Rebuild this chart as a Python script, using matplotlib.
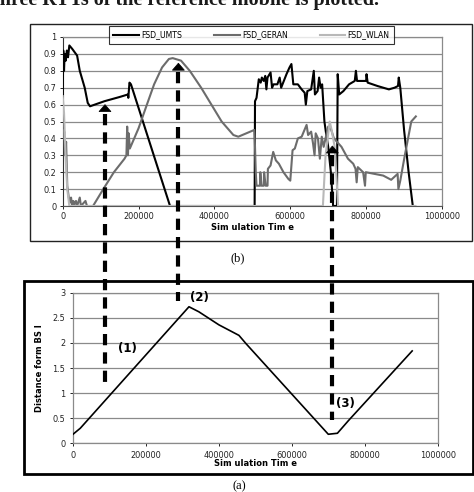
import matplotlib
matplotlib.use("Agg")
import matplotlib.pyplot as plt
from matplotlib.lines import Line2D
from matplotlib.patches import Rectangle, Polygon
import numpy as np

# ---------------- data ----------------
umts_x = [0, 1500, 3500, 5000, 8000, 11000, 14000, 17500, 25000, 38000, 45000, 58000, 66000, 72000,
          110000, 150000, 172000, 173000, 176000, 180000, 283000, 506000, 507000, 511000, 517000,
          522000, 525000, 530000, 534000, 537000, 540000, 548000, 552000, 556000, 566000, 572000,
          576000, 583000, 590000, 598000, 603000, 608000, 620000, 630000, 638000, 641000, 645000,
          655000, 662000, 665000, 672000, 676000, 680000, 684000, 690000, 695000, 700000, 707000,
          713000, 723000, 725000, 729000, 740000, 755000, 770000, 773000, 776000, 800000, 801000,
          804000, 830000, 860000, 875000, 884000, 886000, 890000, 900000, 912000, 923000]
umts_y = [0.65, 0.92, 0.80, 0.90, 0.86, 0.92, 0.88, 0.95, 0.93, 0.89, 0.80, 0.70, 0.61, 0.59,
          0.62, 0.645, 0.66, 0.64, 0.73, 0.72, 0.0, 0.0, 0.62, 0.64, 0.75,
          0.73, 0.76, 0.74, 0.77, 0.69, 0.76, 0.79, 0.70, 0.72, 0.72, 0.76,
          0.70, 0.74, 0.78, 0.82, 0.84, 0.72, 0.72, 0.69, 0.67, 0.60, 0.68,
          0.69, 0.80, 0.66, 0.68, 0.76, 0.70, 0.72, 0.50, 0.42, 0.35, 0.20,
          0.0, 0.0, 0.78, 0.66, 0.68, 0.72, 0.74, 0.80, 0.74, 0.74, 0.78,
          0.73, 0.71, 0.69, 0.70, 0.71, 0.76, 0.70, 0.45, 0.20, 0.0]

geran_x = [0, 2000, 4000, 6500, 9000, 12000, 16000, 19000, 22000, 25000, 28000, 31000, 35000, 38000,
           45000, 48000, 60000, 64000, 80000, 107000, 135000, 163000, 168000, 170000, 172000, 174000,
           177000, 200000, 222000, 241000, 262000, 280000, 290000, 312000, 335000, 365000, 392000,
           419000, 450000, 463000, 505000, 507000, 509000, 511000, 520000, 521000, 524000, 530000,
           531000, 535000, 540000, 541000, 548000, 555000, 562000, 570000, 582000, 595000, 600000,
           606000, 612000, 620000, 630000, 643000, 647000, 655000, 660000, 664000, 667000, 673000,
           678000, 683000, 688000, 693000, 700000, 708000, 715000, 735000, 752000, 766000, 772000,
           775000, 778000, 792000, 797000, 799000, 845000, 866000, 883000, 885000, 890000, 902000,
           919000, 931000]
geran_y = [0.45, 0.40, 0.44, 0.30, 0.38, 0.12, 0.05, 0.02, 0.05, 0.0, 0.03, 0.01, 0.03, 0.0,
           0.05, 0.0, 0.03, 0.0, 0.0, 0.10, 0.20, 0.28, 0.30, 0.47, 0.30, 0.43,
           0.34, 0.46, 0.60, 0.72, 0.82, 0.87, 0.875, 0.86, 0.80, 0.70, 0.60,
           0.50, 0.42, 0.41, 0.45, 0.35, 0.20, 0.12, 0.12, 0.20, 0.12, 0.12,
           0.20, 0.12, 0.12, 0.22, 0.24, 0.32, 0.27, 0.25, 0.20, 0.16, 0.15,
           0.33, 0.34, 0.40, 0.41, 0.48, 0.42, 0.44, 0.37, 0.30, 0.43, 0.40,
           0.28, 0.41, 0.35, 0.40, 0.47, 0.45, 0.40, 0.35, 0.28, 0.25, 0.22,
           0.14, 0.23, 0.20, 0.12, 0.20, 0.18, 0.155, 0.19, 0.10, 0.15, 0.30,
           0.50, 0.53]

wlan_x = [0, 3500, 7500, 12000, 17500, 686000, 693000, 704000, 709000, 717000, 721000, 726000, 930000]
wlan_y = [0.65, 0.55, 0.30, 0.10, 0.0, 0.0, 0.30, 0.50, 0.45, 0.35, 0.20, 0.0, 0.0]

dist_x = [0, 20000, 318000, 345000, 400000, 455000, 475000, 700000, 725000, 755000, 930000]
dist_y = [0.18, 0.30, 2.72, 2.62, 2.36, 2.15, 1.98, 0.18, 0.20, 0.45, 1.84]

series_names = ["FSD_UMTS", "FSD_GERAN", "FSD_WLAN"]
x_ticks = [0, 200000, 400000, 600000, 800000, 1000000]
top_y_ticks = [0, 0.1, 0.2, 0.3, 0.4, 0.5, 0.6, 0.7, 0.8, 0.9, 1]
top_y_labels = ["0", "0.1", "0.2", "0.3", "0.4", "0.5", "0.6", "0.7", "0.8", "0.9", "1"]
bot_y_ticks = [0, 0.5, 1, 1.5, 2, 2.5, 3]
bot_y_labels = ["0", "0.5", "1", "1.5", "2", "2.5", "3"]
xlabel = "Sim ulation Tim e"
ylabel_bot = "Distance form BS I"
caption_top = "three RTTs of the reference mobile is plotted."

# annotations: (x in top chart, tip y in top chart, end y in bottom chart)
arrows = [(111500, 0.60, 1.10), (305000, 0.845, 2.83), (711000, 0.355, 0.46)]
point_labels = [("(1)", 149000, 1.89), ("(2)", 348000, 2.91), ("(3)", 748000, 0.80)]

# ---------------- figure ----------------
W, H = 474, 492
fig = plt.figure(figsize=(W / 100, H / 100), dpi=100)
fig.patch.set_facecolor("white")

def fx(px):
    return px / W

def fy(py):
    return 1 - py / H

grid_c = "#8a8a8a"
tick_font = dict(family="DejaVu Sans", size=5.9)

# top text line (cut off at the top edge of the page crop)
fig.text(fx(379), fy(5), caption_top, ha="right",
         va="baseline", family="Liberation Serif", fontsize=14.5, fontweight="bold", color="#1a1a1a")

# outer boxes
fig.patches.append(Rectangle((fx(30), fy(241)), fx(442), 217 / H, transform=fig.transFigure,
                             fill=False, edgecolor="#222222", linewidth=1.0, zorder=0))
fig.patches.append(Rectangle((fx(24), fy(474)), fx(449), 193.3 / H, transform=fig.transFigure,
                             fill=False, edgecolor="black", linewidth=2.0, zorder=0))

# ---- top chart ----
ax1 = fig.add_axes([fx(62.7), fy(206), (442 - 62.7) / W, (206 - 37) / H])
ax1.plot(umts_x, umts_y, color="black", lw=1.5, label=series_names[0], zorder=3)
ax1.plot(geran_x, geran_y, color="#6c6c6c", lw=1.5, label=series_names[1], zorder=3)
ax1.plot(wlan_x, wlan_y, color="#b8b8b8", lw=1.5, label=series_names[2], zorder=3)
ax1.set_xlim(0, 1000000)
ax1.set_ylim(0, 1)
ax1.set_xticks(x_ticks)
ax1.set_xticklabels([str(v) for v in x_ticks], **tick_font)
ax1.set_yticks(top_y_ticks)
ax1.set_yticklabels(top_y_labels, **tick_font)
ax1.yaxis.grid(True, color=grid_c, lw=0.9)
ax1.set_axisbelow(True)
for s in ["top", "right"]:
    ax1.spines[s].set_color(grid_c)
    ax1.spines[s].set_linewidth(0.9)
ax1.spines["left"].set_color("#333333")
ax1.spines["bottom"].set_color("#555555")
ax1.tick_params(axis="both", length=2.5, width=0.7, pad=2, colors="#222222")
ax1.set_xlabel(xlabel, fontsize=6, fontweight="bold", family="DejaVu Sans", labelpad=1.5)

leg = fig.legend(handles=ax1.get_lines(), labels=series_names, ncol=3,
                 bbox_to_anchor=(fx(109), fy(45), 285 / W, 20 / H), loc="center", mode="expand",
                 prop=dict(family="DejaVu Sans", size=5.6), handlelength=3.3, handletextpad=0.3,
                 borderaxespad=0, frameon=True, fancybox=False, borderpad=0.55)
leg.get_frame().set_edgecolor("black")
leg.get_frame().set_linewidth(0.8)

fig.text(fx(238), fy(258), "(b)", ha="center", va="center", family="Liberation Serif", fontsize=9)

# ---- bottom chart ----
ax2 = fig.add_axes([fx(73), fy(443.3), (437.7 - 73) / W, (443.3 - 292.7) / H])
ax2.plot(dist_x, dist_y, color="black", lw=1.2, zorder=3)
ax2.set_xlim(0, 1000000)
ax2.set_ylim(0, 3)
ax2.set_xticks(x_ticks)
ax2.set_xticklabels([str(v) for v in x_ticks], **tick_font)
ax2.set_yticks(bot_y_ticks)
ax2.set_yticklabels(bot_y_labels, **tick_font)
ax2.yaxis.grid(True, color=grid_c, lw=0.9)
ax2.set_axisbelow(True)
for s in ["top", "right", "bottom", "left"]:
    ax2.spines[s].set_color(grid_c)
    ax2.spines[s].set_linewidth(0.9)
ax2.tick_params(axis="both", length=2.5, width=0.7, pad=3, colors="#222222")
ax2.tick_params(axis="x", pad=3.0)
ax2.set_xlabel(xlabel, fontsize=6, fontweight="bold", family="DejaVu Sans", labelpad=-0.8)
ax2.set_ylabel(ylabel_bot, fontsize=6, fontweight="bold", family="DejaVu Sans", labelpad=6)
for txt, xv, yv in point_labels:
    ax2.text(xv, yv, txt, ha="center", va="center", fontsize=8.5, fontweight="bold",
             family="DejaVu Sans", zorder=5)

fig.text(fx(239), fy(486), "(a)", ha="center", va="center", family="Liberation Serif", fontsize=9)

# ---- dashed arrows (overlay in figure coords) ----
inv = fig.transFigure.inverted()
for xt, ytip, yend in arrows:
    tip_disp = ax1.transData.transform((xt, ytip))
    end_disp = ax2.transData.transform((0, yend))
    tx, ty = tip_disp
    ey = end_disp[1]
    tri = [inv.transform((tx - 6, ty - 7)), inv.transform((tx + 6, ty - 7)), inv.transform((tx, ty))]
    fig.patches.append(Polygon(tri, closed=True, transform=fig.transFigure, facecolor="black",
                               edgecolor="black", lw=0.5, zorder=10))
    p0 = inv.transform((tx, ty - 9))
    p1 = inv.transform((tx, ey))
    fig.lines.append(Line2D([p0[0], p1[0]], [p0[1], p1[1]], transform=fig.transFigure,
                            color="black", lw=3.0, linestyle=(0, (2.7, 1.7)),
                            solid_capstyle="butt", dash_capstyle="butt", zorder=10))

fig.savefig("out.png", dpi=100, facecolor="white")
